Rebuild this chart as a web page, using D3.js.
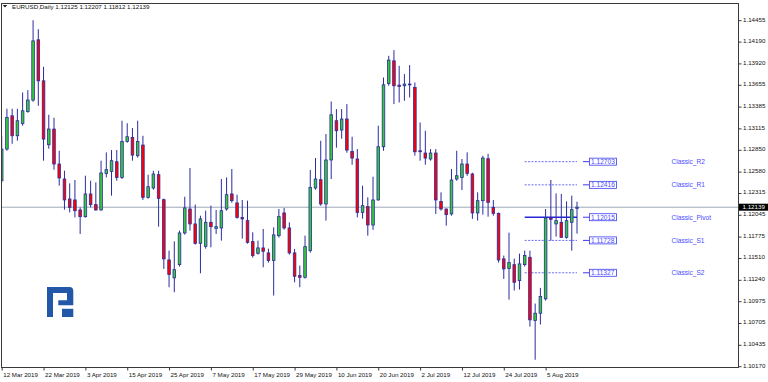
<!DOCTYPE html>
<html>
<head>
<meta charset="utf-8">
<script src="https://cdn.jsdelivr.net/npm/d3@7"></script>
<style>
  body { margin: 0; background: #fff; }
  svg { display: block; font-family: "Liberation Sans", Arial, sans-serif; }
</style>
</head>
<body>
<svg id="chart" width="768" height="382"></svg>
<script>
// EURUSD daily bars, 12 Mar 2019 .. 13 Aug 2019
const open = [1.12467,1.12859,1.13271,1.13024,1.13176,1.13325,1.13466,1.14212,1.13704,1.12913,
  1.13107,1.12674,1.12488,1.12241,1.12229,1.12105,1.12022,1.12303,1.12171,1.12105,
  1.12558,1.12582,1.12702,1.12508,1.12954,1.13003,1.12777,1.12909,1.12261,1.12377,
  1.12542,1.12232,1.11486,1.11264,1.11428,1.11820,1.12117,1.11932,1.11692,1.11655,
  1.11952,1.11877,1.11882,1.12117,1.12303,1.12192,1.12013,1.11973,1.11713,1.11568,
  1.11635,1.11573,1.11478,1.11787,1.12068,1.11882,1.11573,1.11292,1.11271,1.11601,
  1.12377,1.12480,1.12179,1.12724,1.13210,1.13095,1.13231,1.12830,1.12736,1.12075,
  1.12146,1.11919,1.12229,1.12888,1.13671,1.13952,1.13651,1.13643,1.13664,1.13622,
  1.12838,1.12810,1.12736,1.12810,1.12211,1.12117,1.12056,1.12488,1.12508,1.12674,
  1.12550,1.12068,1.12220,1.12740,1.12137,1.12063,1.11499,1.11379,1.11428,1.11230,
  1.11428,1.11519,1.10736,1.10826,1.11004,1.12006,1.11932,1.11952,1.11766,1.11952,
  1.12125];
const high = [1.13024,1.13358,1.13358,1.13358,1.13560,1.13589,1.14455,1.14344,1.13878,1.13284,
  1.13247,1.12838,1.12591,1.12434,1.12476,1.12137,1.12529,1.12467,1.12446,1.12715,
  1.12818,1.12847,1.12847,1.13210,1.13179,1.13119,1.13210,1.13024,1.12542,1.12591,
  1.12591,1.12245,1.11601,1.11716,1.11849,1.12269,1.12624,1.12171,1.12034,1.12096,
  1.12158,1.12105,1.12488,1.12508,1.12612,1.12294,1.12229,1.12220,1.11828,1.11725,
  1.11870,1.11626,1.11890,1.12117,1.12130,1.11952,1.11622,1.11416,1.11787,1.12600,
  1.12748,1.12962,1.13045,1.13448,1.13354,1.13354,1.13416,1.13012,1.12859,1.12406,
  1.12261,1.12517,1.13148,1.13745,1.14014,1.14084,1.13890,1.13787,1.13899,1.13683,
  1.13189,1.13086,1.12859,1.12859,1.12323,1.12121,1.12612,1.12838,1.12736,1.12818,
  1.12566,1.12323,1.12777,1.12801,1.12229,1.12072,1.11540,1.11824,1.11502,1.11564,
  1.11601,1.11601,1.10946,1.11140,1.12117,1.12476,1.12310,1.12303,1.12211,1.12282,
  1.12207];
const low = [1.12442,1.12838,1.12925,1.12962,1.13148,1.13309,1.13445,1.13395,1.12715,1.12863,
  1.12604,1.12406,1.12109,1.12075,1.12013,1.11808,1.12010,1.12137,1.12096,1.12096,
  1.12508,1.12282,1.12467,1.12488,1.12938,1.12715,1.12752,1.12229,1.12245,1.12356,
  1.11898,1.11375,1.11148,1.11086,1.11404,1.11799,1.11849,1.11676,1.11321,1.11626,
  1.11642,1.11808,1.11725,1.12096,1.12195,1.11997,1.11750,1.11688,1.11515,1.11552,
  1.11395,1.11453,1.11045,1.11762,1.11861,1.11552,1.11209,1.11148,1.11255,1.11577,
  1.12356,1.12158,1.11973,1.12488,1.12876,1.12987,1.12814,1.12665,1.12013,1.11997,
  1.11787,1.11858,1.12220,1.12838,1.13643,1.13416,1.13436,1.13457,1.13498,1.12777,
  1.12715,1.12665,1.12715,1.12056,1.12096,1.11911,1.12034,1.12467,1.12352,1.12529,
  1.11994,1.11973,1.12047,1.12022,1.12034,1.11453,1.11251,1.10995,1.11107,1.11119,
  1.11404,1.10661,1.10250,1.10686,1.10983,1.11725,1.11775,1.11762,1.11750,1.11601,
  1.11812];
const close = [1.12859,1.13250,1.13024,1.13210,1.13333,1.13466,1.14199,1.13704,1.12983,1.13107,
  1.12674,1.12501,1.12229,1.12137,1.12096,1.12022,1.12303,1.12171,1.12105,1.12563,
  1.12604,1.12715,1.12508,1.12954,1.13012,1.12785,1.12954,1.12261,1.12393,1.12550,
  1.12249,1.11499,1.11305,1.11366,1.11820,1.12130,1.11932,1.11692,1.11994,1.11952,
  1.11898,1.11898,1.12096,1.12294,1.12220,1.12013,1.11994,1.11704,1.11540,1.11635,
  1.11593,1.11478,1.11796,1.12022,1.11882,1.11573,1.11284,1.11271,1.11651,1.12385,
  1.12488,1.12179,1.12724,1.13284,1.13086,1.13231,1.12847,1.12748,1.12075,1.12158,
  1.11919,1.12229,1.12888,1.13655,1.13961,1.13643,1.13634,1.13664,1.13657,1.12826,
  1.12826,1.12748,1.12810,1.12229,1.12117,1.12047,1.12476,1.12529,1.12674,1.12558,
  1.12068,1.12220,1.12748,1.12199,1.12063,1.11486,1.11375,1.11453,1.11209,1.11437,
  1.11540,1.10744,1.10826,1.11032,1.12006,1.11989,1.11973,1.11766,1.11973,1.12109,
  1.12139];

const dateTickBars = [0, 8, 16, 24, 32, 40, 48, 56, 64, 72, 80, 88, 96, 104];
const dateTickLabels = ["12 Mar 2019", "22 Mar 2019", "3 Apr 2019", "15 Apr 2019", "25 Apr 2019",
  "7 May 2019", "17 May 2019", "29 May 2019", "10 Jun 2019", "20 Jun 2019", "2 Jul 2019",
  "12 Jul 2019", "24 Jul 2019", "5 Aug 2019"];
const priceTicks = [1.14455, 1.14190, 1.13920, 1.13655, 1.13385, 1.13115, 1.12850, 1.12580,
  1.12315, 1.12045, 1.11775, 1.11510, 1.11240, 1.10975, 1.10705, 1.10435, 1.10170];

const pivotNames = ["Classic_R2", "Classic_R1", "Classic_Pivot", "Classic_S1", "Classic_S2"];
const pivotValues = [1.12703, 1.12416, 1.12015, 1.11728, 1.11327];
const pivotFromBar = 100;

const symbolTitle = "EURUSD,Daily";
const lastPrice = 1.12139;

// layout
const frame = { left: 1.5, right: 738.5, top: 3.5, bottom: 367.5 };
const wickColor = "#2b2ba0", upColor = "#33cc33", downColor = "#ff0000";
const pivotColor = "#3b3bf0", pivotText = "#4a4aff";
const textColor = "#111";

const svg = d3.select("#chart");
const nBars = close.length;

const x = d3.scaleLinear().domain([0, 110]).range([1.7, 577]);
const y = d3.scaleLinear().domain([1.10170, 1.14455]).range([366.2, 20.2]);

svg.append("defs").append("clipPath").attr("id", "plot")
  .append("rect")
  .attr("x", frame.left).attr("y", frame.top)
  .attr("width", frame.right - frame.left).attr("height", frame.bottom - frame.top);

const plot = svg.append("g").attr("clip-path", "url(#plot)");

// current price line
plot.append("line")
  .attr("x1", frame.left).attr("x2", frame.right)
  .attr("y1", y(lastPrice)).attr("y2", y(lastPrice))
  .attr("stroke", "#9eabb8").attr("stroke-width", 1);

// pivot levels
const piv = plot.append("g");
pivotValues.forEach(function(v, i) {
  var isPivot = pivotNames[i] === "Classic_Pivot";
  piv.append("line")
    .attr("x1", x(pivotFromBar)).attr("x2", x(nBars - 1))
    .attr("y1", y(v)).attr("y2", y(v))
    .attr("stroke", isPivot ? "#2626d8" : "#5a5af5")
    .attr("stroke-width", isPivot ? 1.6 : 0.9)
    .attr("stroke-dasharray", isPivot ? null : "2,1.4");
  piv.append("line")
    .attr("x1", 583).attr("x2", 589.5)
    .attr("y1", y(v)).attr("y2", y(v))
    .attr("stroke", pivotColor).attr("stroke-width", 1);
  piv.append("rect")
    .attr("x", 589.5).attr("y", y(v) - 3.5)
    .attr("width", 27).attr("height", 7)
    .attr("fill", "#fff").attr("stroke", pivotColor).attr("stroke-width", 0.8);
  piv.append("text")
    .attr("x", 591).attr("y", y(v) + 2.3)
    .attr("font-size", 6.6).attr("fill", pivotText)
    .text(d3.format(".5f")(v));
  piv.append("text")
    .attr("x", 671.5).attr("y", y(v) + 2.3)
    .attr("font-size", 6.6).attr("fill", pivotText)
    .text(pivotNames[i]);
});

// candles
const bars = d3.range(nBars);
const candle = plot.append("g").selectAll("g").data(bars).enter().append("g");

candle.append("line")
  .attr("x1", function(i) { return x(i); })
  .attr("x2", function(i) { return x(i); })
  .attr("y1", function(i) { return y(high[i]); })
  .attr("y2", function(i) { return y(low[i]); })
  .attr("stroke", wickColor).attr("stroke-width", 1);

candle.append("rect")
  .attr("x", function(i) { return x(i) - 1.3; })
  .attr("width", 2.6)
  .attr("y", function(i) { return y(Math.max(open[i], close[i])); })
  .attr("height", function(i) { return Math.max(0.8, Math.abs(y(open[i]) - y(close[i]))); })
  .attr("fill", function(i) { return close[i] >= open[i] ? upColor : downColor; })
  .attr("stroke", wickColor).attr("stroke-width", 0.8);

// frame
svg.append("rect")
  .attr("x", frame.left).attr("y", frame.top)
  .attr("width", frame.right - frame.left).attr("height", frame.bottom - frame.top)
  .attr("fill", "none").attr("stroke", "#3a3a3a").attr("stroke-width", 1);

// price axis
const yAxis = svg.append("g")
  .attr("transform", "translate(" + frame.right + ",0)")
  .call(d3.axisRight(y).tickValues(priceTicks).tickSize(3).tickPadding(1.5)
    .tickFormat(d3.format(".5f")));
yAxis.select(".domain").remove();
yAxis.selectAll("line").attr("stroke", "#3a3a3a");
yAxis.selectAll("text").attr("font-size", 6.2).attr("fill", textColor).attr("dy", "0.15em");

// last price marker
svg.append("rect")
  .attr("x", 739).attr("y", y(lastPrice) - 3.5)
  .attr("width", 29).attr("height", 7).attr("fill", "#000");
svg.append("text")
  .attr("x", 742.5).attr("y", y(lastPrice) + 2.2)
  .attr("font-size", 6.2).attr("fill", "#fff")
  .text(d3.format(".5f")(lastPrice));

// date axis
const xAxis = svg.append("g")
  .attr("transform", "translate(0," + frame.bottom + ")")
  .call(d3.axisBottom(x).tickValues(dateTickBars).tickSize(3).tickPadding(2.5)
    .tickFormat(function(d, i) { return dateTickLabels[i]; }));
xAxis.select(".domain").remove();
xAxis.selectAll("line").attr("stroke", "#3a3a3a");
xAxis.selectAll("text")
  .attr("font-size", 6.2).attr("fill", textColor)
  .attr("text-anchor", "start").attr("dx", 1);

// title
svg.append("path").attr("d", "M2.7,5 L7.3,5 L5,7.6 Z").attr("fill", "#222");
svg.append("text")
  .attr("x", 12).attr("y", 9)
  .attr("font-size", 6.2).attr("fill", textColor)
  .text(symbolTitle + "  " + [open[nBars - 1], high[nBars - 1], low[nBars - 1], close[nBars - 1]]
    .map(d3.format(".5f")).join(" "));

// broker logo
const logo = svg.append("g").attr("fill", "#2358a8");
logo.append("rect").attr("x", 47).attr("y", 287).attr("width", 6).attr("height", 30);
logo.append("path").attr("d", "M47,287 H69.5 Q73.3,287 73.3,291 V305.3 H58.3 V300.3 H67 V293 H47 Z");
logo.append("rect").attr("x", 62).attr("y", 308.8).attr("width", 11.3).attr("height", 8.2);
</script>
</body>
</html>
